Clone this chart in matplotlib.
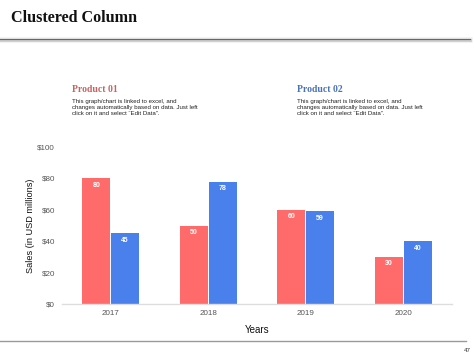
import matplotlib
matplotlib.use("Agg")
import matplotlib.pyplot as plt
import numpy as np

plt.rcParams["font.family"] = ["Liberation Sans", "DejaVu Sans"]

# ── data ──────────────────────────────────────────────
years = ["2017", "2018", "2019", "2020"]
product_01 = [80, 50, 60, 30]
product_02 = [45, 78, 59, 40]
y_ticks = [0, 20, 40, 60, 80, 100]
y_tick_labels = ["$0", "$20", "$40", "$60", "$80", "$100"]

RED = "#ff6b6b"
BLUE = "#4a80ec"
desc = ("This graph/chart is linked to excel, and\n"
        "changes automatically based on data. Just left\n"
        "click on it and select \u201cEdit Data\u201d.")

fig = plt.figure(figsize=(4.74, 3.55), dpi=100)
W, H = 474, 355

# title + shadow rule
fig.text(11 / W, 1 - 18 / H, "Clustered Column", fontsize=11.6, fontweight="bold",
         family="Liberation Serif", va="center", ha="left", color="#111111")
for a, lw, dy in [(0.08, 4, 1.5), (0.18, 2.2, 1.0), (0.75, 0.9, 0.0)]:
    fig.add_artist(plt.Line2D([0.0, 470 / W], [1 - (38.5 + dy) / H] * 2, color="#444444",
                              alpha=a, lw=lw, transform=fig.transFigure))

# product headers
fig.text(72 / W, 1 - 90 / H, "Product 01", fontsize=7, fontweight="bold",
         family="Liberation Serif", color="#c9625f", va="center")
fig.text(297 / W, 1 - 90 / H, "Product 02", fontsize=7, fontweight="bold",
         family="Liberation Serif", color="#4a72b8", va="center")
fig.text(72 / W, 1 - 99 / H, desc, fontsize=4.4, va="top", linespacing=1.2, color="#222222")
fig.text(297 / W, 1 - 99 / H, desc, fontsize=4.4, va="top", linespacing=1.2, color="#222222")

# chart
ax = fig.add_axes([62 / W, 1 - 304 / H, 390 / W, 157 / H])
x = np.arange(len(years))
bw = 0.285
b1 = ax.bar(x - bw / 2 - 0.005, product_01, bw, color=RED, zorder=2)
b2 = ax.bar(x + bw / 2 + 0.005, product_02, bw, color=BLUE, zorder=2)
for bars, vals in [(b1, product_01), (b2, product_02)]:
    for rect, v in zip(bars, vals):
        ax.text(rect.get_x() + rect.get_width() / 2, v - 4.5, str(v), ha="center",
                va="center", color="white", fontsize=5, fontweight="bold")

ax.set_xlim(-0.5, 3.5)
ax.set_ylim(0, 100)
ax.set_yticks(y_ticks)
ax.set_yticklabels(y_tick_labels)
ax.set_xticks(x)
ax.set_xticklabels(years)
ax.tick_params(axis="both", length=0, labelsize=5.8, labelcolor="#555555")
ax.tick_params(axis="y", pad=5)
ax.tick_params(axis="x", pad=4)
for s in ["top", "right", "left"]:
    ax.spines[s].set_visible(False)
ax.spines["bottom"].set_color("#dddddd")
ax.spines["bottom"].set_linewidth(1)
ax.set_ylabel("Sales (in USD millions)", fontsize=6.6, labelpad=2, color="#111111")
ax.set_xlabel("Years", fontsize=7, labelpad=6, color="#111111")

# footer rule + page number
fig.add_artist(plt.Line2D([0.0, 466 / W], [1 - 341 / H] * 2, color="#999999",
                          lw=1, transform=fig.transFigure))
fig.text(467 / W, 1 - 351 / H, "47", fontsize=4.5, ha="center", va="center", color="#333333")

fig.savefig("out.png", dpi=100, facecolor="white")
